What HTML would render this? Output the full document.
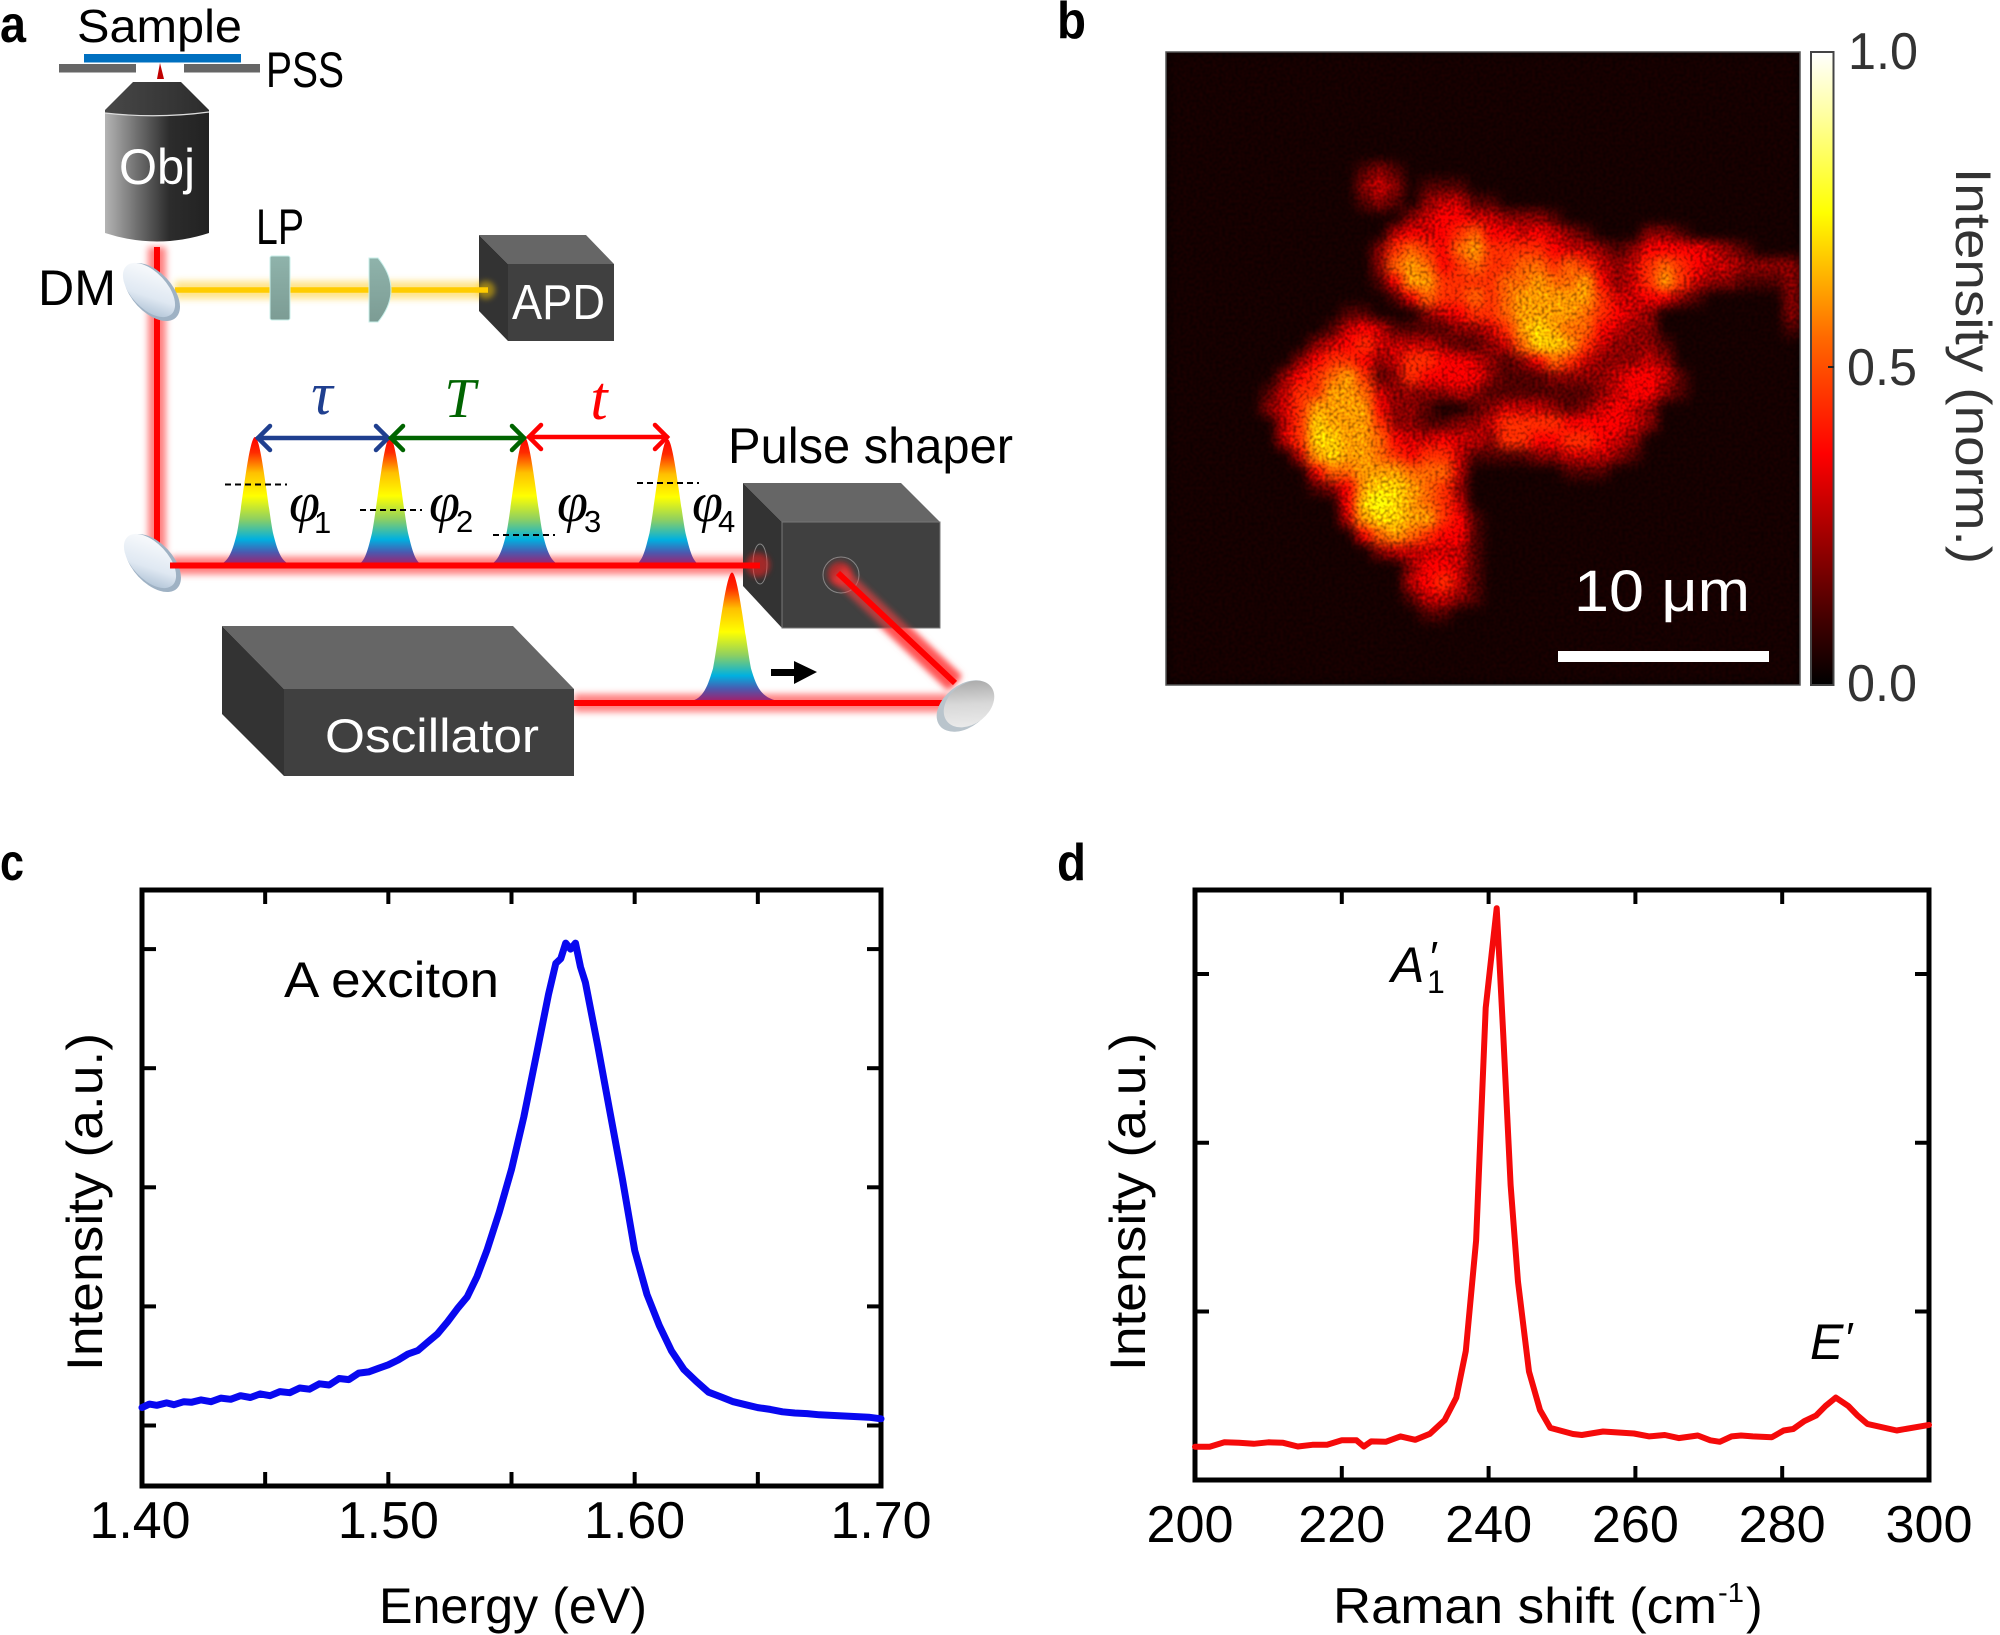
<!DOCTYPE html>
<html lang="en">
<head>
<meta charset="utf-8">
<title>Pulse shaping microscopy figure</title>
<style>
html,body{margin:0;padding:0;background:#fff}
svg{display:block}
text{font-family:"Liberation Sans",sans-serif}
.math{font-family:"Liberation Serif",serif;font-style:italic}
</style>
</head>
<body>
<svg id="figure" xmlns="http://www.w3.org/2000/svg" width="2000" height="1635" viewBox="0 0 2000 1635">
<defs>
  <linearGradient id="rainbow" x1="0" y1="0" x2="0" y2="1">
    <stop offset="0" stop-color="#ff0000"/><stop offset=".12" stop-color="#ff2a00"/>
    <stop offset=".28" stop-color="#ffc000"/><stop offset=".46" stop-color="#ffff00"/>
    <stop offset=".64" stop-color="#8fd060"/><stop offset=".8" stop-color="#00b0e0"/>
    <stop offset=".9" stop-color="#4a5ab0"/><stop offset="1" stop-color="#a81c68"/>
  </linearGradient>
  <linearGradient id="objBody" x1="0" y1="0" x2="1" y2="0">
    <stop offset="0" stop-color="#b4b4b4"/><stop offset=".35" stop-color="#666"/>
    <stop offset=".62" stop-color="#2c2c2c"/><stop offset="1" stop-color="#222"/>
  </linearGradient>
  <linearGradient id="objTop" x1="0" y1="0" x2="1" y2="0">
    <stop offset="0" stop-color="#484848"/><stop offset="1" stop-color="#2c2c2c"/>
  </linearGradient>
  <linearGradient id="mirrorBlue" x1="0" y1="0" x2="1" y2="1">
    <stop offset="0" stop-color="#ffffff"/><stop offset=".6" stop-color="#dfe8f2"/><stop offset="1" stop-color="#9fb6cc"/>
  </linearGradient>
  <linearGradient id="mirrorSilver" x1="1" y1="0" x2="0" y2="1">
    <stop offset="0" stop-color="#9a9a9a"/><stop offset=".5" stop-color="#d8d8d8"/><stop offset="1" stop-color="#f2f2f2"/>
  </linearGradient>
  <linearGradient id="opticGreen" x1="0" y1="0" x2="0" y2="1">
    <stop offset="0" stop-color="#8fb3ab"/><stop offset="1" stop-color="#7c9c94"/>
  </linearGradient>
  <linearGradient id="colorbarGradient" x1="0" y1="1" x2="0" y2="0">
    <stop offset="0" stop-color="#000000"/><stop offset=".1" stop-color="#400000"/>
    <stop offset=".365" stop-color="#ff0000"/><stop offset=".55" stop-color="#ff6a00"/>
    <stop offset=".746" stop-color="#ffff00"/><stop offset=".9" stop-color="#ffffa0"/><stop offset="1" stop-color="#ffffff"/>
  </linearGradient>
  <filter id="soft" x="-30%" y="-30%" width="160%" height="160%"><feGaussianBlur stdDeviation="3"/></filter>
  <filter id="softBeam" filterUnits="userSpaceOnUse" x="0" y="0" width="1100" height="800"><feGaussianBlur stdDeviation="3.5"/></filter>
  <filter id="heatBlur" filterUnits="userSpaceOnUse" x="1166" y="52" width="634" height="633" color-interpolation-filters="sRGB">
    <feGaussianBlur in="SourceGraphic" stdDeviation="5.5" result="b"/>
    <feTurbulence type="fractalNoise" baseFrequency="0.31" numOctaves="1" seed="4" result="t"/>
    <feColorMatrix in="t" type="matrix" values="1.4 0 0 0 -.2 1.4 0 0 0 -.2 1.4 0 0 0 -.2 0 0 0 0 1" result="n"/>
    <feComposite in="b" in2="n" operator="arithmetic" k1="0.9" k2="0.55" k3="0" k4="0"/>
  </filter>
  <clipPath id="heatClip"><rect x="1166" y="52" width="634" height="633"/></clipPath>
</defs>

<rect width="2000" height="1635" fill="#fff"/>

<!-- PANEL A -->
<g id="panel-a">
  <text x="0" y="42" font-size="52" font-weight="700" textLength="26" lengthAdjust="spacingAndGlyphs">a</text>

  <text x="77" y="42" font-size="46" textLength="165" lengthAdjust="spacingAndGlyphs">Sample</text>
  <rect x="84" y="54" width="157" height="8.5" fill="#0070c0"/>
  <rect x="59" y="64" width="77" height="8.5" fill="#666"/>
  <rect x="184" y="64" width="76" height="8.5" fill="#666"/>
  <polygon points="160,63 164,79 157,79" fill="#c00000"/>
  <text x="266" y="87" font-size="50" textLength="78" lengthAdjust="spacingAndGlyphs">PSS</text>

  <g>
    <polygon points="133,82 181,82 209,110 209,116 105,116 105,110" fill="url(#objTop)"/>
    <path d="M105,113 Q157,119 209,113 L209,233 Q157,250 105,233 Z" fill="url(#objBody)"/>
    <path d="M105,113 Q157,119 209,112" fill="none" stroke="#ddd" stroke-width="1.2"/>
  </g>
  <text x="119" y="184" font-size="50" fill="#fff" textLength="76" lengthAdjust="spacingAndGlyphs">Obj</text>
  <text x="256" y="244" font-size="50" textLength="48" lengthAdjust="spacingAndGlyphs">LP</text>
  <text x="38" y="305" font-size="50" textLength="78" lengthAdjust="spacingAndGlyphs">DM</text>

  <g filter="url(#softBeam)" fill="none" stroke-linecap="butt">
    <line x1="157" y1="247" x2="157" y2="560" stroke="#ff8080" stroke-width="18"/>
    <line x1="170" y1="565.5" x2="760" y2="565.5" stroke="#ff8080" stroke-width="18"/>
    <line x1="574" y1="703" x2="950" y2="703" stroke="#ff8080" stroke-width="18"/>
    <line x1="838" y1="573" x2="955" y2="683" stroke="#ff7070" stroke-width="20"/>
    <line x1="175" y1="290" x2="488" y2="290" stroke="#ffe48a" stroke-width="18"/>
  </g>

  <polygon points="479,235 586,235 614,264 508,264" fill="#666"/>
  <polygon points="479,235 508,264 508,341 479,311" fill="#333"/>
  <rect x="508" y="264" width="106" height="77" fill="#404040"/>
  <text x="512" y="319" font-size="49" fill="#fff" textLength="93" lengthAdjust="spacingAndGlyphs">APD</text>
  <line x1="175" y1="290" x2="488" y2="290" stroke="#ffcc00" stroke-width="5.5"/>
  <circle cx="486" cy="290" r="9" fill="#ffcc00" opacity=".5" filter="url(#soft)"/>

  <rect x="270" y="256" width="20" height="64" rx="2" fill="url(#opticGreen)" stroke="#c8efea" stroke-width="1"/>
  <path d="M369,258 L378,258 Q404,290 378,322 L369,322 Z" fill="url(#opticGreen)" stroke="#c8efea" stroke-width="1"/>

  <line x1="157" y1="247" x2="157" y2="560" stroke="#ff0000" stroke-width="6"/>

  <g>
    <ellipse cx="152" cy="292" rx="35" ry="20" transform="rotate(47 152 292)" fill="#9fb2c4"/>
    <ellipse cx="149" cy="290" rx="33" ry="18" transform="rotate(47 149 290)" fill="url(#mirrorBlue)"/>
  </g>
  <g>
    <ellipse cx="153" cy="563" rx="35" ry="20" transform="rotate(47 153 563)" fill="#9fb2c4"/>
    <ellipse cx="150" cy="561" rx="33" ry="18" transform="rotate(47 150 561)" fill="url(#mirrorBlue)"/>
  </g>

  <polygon points="743,483 901,483 940,522 782,522" fill="#666"/>
  <polygon points="743,483 782,522 782,628 743,586" fill="#333"/>
  <rect x="782" y="522" width="158" height="106" fill="#404040" stroke="#777" stroke-width="1"/>
  <ellipse cx="760" cy="564" rx="7" ry="20" fill="none" stroke="#888" stroke-width="1"/>
  <circle cx="841" cy="575" r="18" fill="none" stroke="#888" stroke-width="1"/>
  <circle cx="758" cy="565" r="12" fill="#ff2020" opacity=".55" filter="url(#soft)"/>
  <circle cx="840" cy="574" r="12" fill="#ff2020" opacity=".6" filter="url(#soft)"/>
  <line x1="838" y1="573" x2="955" y2="683" stroke="#ff4040" stroke-width="18" opacity=".6" filter="url(#soft)"/>

  <polygon points="222,626 513,626 574,689 284,689" fill="#666"/>
  <polygon points="222,626 284,689 284,776 222,714" fill="#333"/>
  <rect x="284" y="689" width="290" height="87" fill="#404040"/>
  <text x="325" y="752" font-size="47" fill="#fff" textLength="214" lengthAdjust="spacingAndGlyphs">Oscillator</text>

  <g fill="url(#rainbow)">
    <path transform="translate(255 437)" d="M-37,128 C-26,126 -22,112 -18,96 C-13,70 -6,0 0,0 C6,0 13,70 18,96 C22,112 26,126 37,128 Z"/>
    <path transform="translate(390 437)" d="M-33,128 C-25,126 -22,112 -18,96 C-13,70 -6,0 0,0 C6,0 13,70 18,96 C22,112 25,126 33,128 Z"/>
    <path transform="translate(524.5 437)" d="M-36,128 C-26,126 -22,112 -18,96 C-13,70 -6,0 0,0 C6,0 13,70 18,96 C22,112 26,126 36,128 Z"/>
    <path transform="translate(667.5 439)" d="M-33,126 C-25,124 -22,110 -18,94 C-13,68 -6,0 0,0 C6,0 13,68 18,94 C22,110 25,124 33,126 Z"/>
    <path transform="translate(732 572.5)" d="M-43,129 C-28,127 -24,112 -19,96 C-14,70 -6,0 0,0 C6,0 14,70 19,96 C24,112 28,127 50,129 Z"/>
  </g>

  <line x1="170" y1="565.5" x2="760" y2="565.5" stroke="#ff0000" stroke-width="6"/>
  <line x1="574" y1="703" x2="950" y2="703" stroke="#ff0000" stroke-width="6"/>
  <line x1="838" y1="573" x2="955" y2="683" stroke="#ff0000" stroke-width="6"/>

  <g>
    <ellipse cx="965" cy="706" rx="32" ry="21" transform="rotate(-38 965 706)" fill="#b9c4cc"/>
    <ellipse cx="969" cy="704" rx="28" ry="20" transform="rotate(-38 969 704)" fill="url(#mirrorSilver)"/>
  </g>

  <polygon points="771,669 794,669 794,661 817,672 794,684 794,676 771,676" fill="#000"/>

  <g fill="none" stroke-width="4.5" stroke-linecap="round">
    <g stroke="#1f3f8f">
      <line x1="258" y1="438" x2="387" y2="438"/><polyline points="270,426 258,438 270,450"/><polyline points="376,426 388,438 376,450"/>
    </g>
    <g stroke="#006400">
      <line x1="391" y1="438" x2="524" y2="438"/><polyline points="403,426 391,438 403,450"/><polyline points="512,426 524,438 512,450"/>
    </g>
    <g stroke="#ff0000">
      <line x1="529" y1="437" x2="667" y2="437"/><polyline points="541,425 529,437 541,449"/><polyline points="655,425 667,437 655,449"/>
    </g>
  </g>
  <text class="math" x="322" y="414" font-size="60" text-anchor="middle" fill="#1f3f8f">τ</text>
  <text class="math" x="460" y="417" font-size="56" text-anchor="middle" fill="#006400">T</text>
  <text class="math" x="599" y="419" font-size="62" text-anchor="middle" fill="#ff0000">t</text>

  <g stroke="#000" stroke-width="2" stroke-dasharray="6 4">
    <line x1="225" y1="484.5" x2="287" y2="484.5"/>
    <line x1="360" y1="510" x2="422" y2="510"/>
    <line x1="493" y1="535" x2="555" y2="535"/>
    <line x1="637" y1="483" x2="699" y2="483"/>
  </g>
  <text class="math" x="289" y="521" font-size="56">φ</text>
  <text x="314" y="533" font-size="31">1</text>
  <text class="math" x="429" y="521" font-size="56">φ</text>
  <text x="456" y="532" font-size="31">2</text>
  <text class="math" x="557" y="521" font-size="56">φ</text>
  <text x="584" y="532" font-size="31">3</text>
  <text class="math" x="692" y="521" font-size="56">φ</text>
  <text x="718" y="532" font-size="31">4</text>
  <text x="728" y="463" font-size="50" textLength="285" lengthAdjust="spacingAndGlyphs">Pulse shaper</text>
</g>

<!-- PANEL B -->
<g id="panel-b">
  <text x="1057" y="38" font-size="52" font-weight="700" textLength="29" lengthAdjust="spacingAndGlyphs">b</text>
  <rect x="1166" y="52" width="634" height="633" fill="#0e0000"/>
  <g clip-path="url(#heatClip)"><g id="heatmap" filter="url(#heatBlur)"></g></g>
  <rect x="1166" y="52" width="634" height="633" fill="none" stroke="#555" stroke-width="1.5"/>
  <rect x="1558" y="651" width="211" height="11" fill="#fff"/>
  <text x="1574" y="611" font-size="58" fill="#fff" textLength="176" lengthAdjust="spacingAndGlyphs">10 μm</text>
  <rect x="1811" y="52" width="22.5" height="633" fill="url(#colorbarGradient)" stroke="#444" stroke-width="2"/>
  <line x1="1828" y1="367" x2="1834" y2="367" stroke="#222" stroke-width="2"/>
  <text x="1848" y="69" font-size="52" fill="#333" textLength="70" lengthAdjust="spacingAndGlyphs">1.0</text>
  <text x="1847" y="385" font-size="52" fill="#333" textLength="70" lengthAdjust="spacingAndGlyphs">0.5</text>
  <text x="1847" y="701" font-size="52" fill="#333" textLength="70" lengthAdjust="spacingAndGlyphs">0.0</text>
  <text transform="translate(1956 168) rotate(90)" font-size="50" fill="#333" textLength="396" lengthAdjust="spacingAndGlyphs">Intensity (norm.)</text>
</g>

<!-- PANEL C & D drawn from data below -->
<g id="panel-c">
  <text x="0" y="880" font-size="52" font-weight="700" textLength="24" lengthAdjust="spacingAndGlyphs">c</text>
  <text x="379" y="1623" font-size="50" textLength="268" lengthAdjust="spacingAndGlyphs">Energy (eV)</text>
  <text transform="translate(102 1371) rotate(-90)" font-size="50" textLength="338" lengthAdjust="spacingAndGlyphs">Intensity (a.u.)</text>
  <text x="284" y="997" font-size="50" textLength="215" lengthAdjust="spacingAndGlyphs">A exciton</text>
</g>
<g id="panel-d">
  <text x="1057" y="880" font-size="52" font-weight="700" textLength="29" lengthAdjust="spacingAndGlyphs">d</text>
  <text x="1333" y="1623" font-size="50" textLength="384" lengthAdjust="spacingAndGlyphs">Raman shift (cm</text>
  <text x="1718" y="1602" font-size="28" textLength="26" lengthAdjust="spacingAndGlyphs">-1</text>
  <text x="1746" y="1623" font-size="50">)</text>
  <text transform="translate(1145 1371) rotate(-90)" font-size="50" textLength="338" lengthAdjust="spacingAndGlyphs">Intensity (a.u.)</text>
  <text x="1391" y="982" font-size="50" font-style="italic">A</text>
  <text x="1427" y="993" font-size="32">1</text>
  <text x="1428" y="972" font-size="44" font-style="italic">′</text>
  <text x="1810" y="1359" font-size="50" font-style="italic">E</text>
  <text x="1844" y="1353" font-size="44" font-style="italic">′</text>
</g>
</svg>

<script>
// Panel b: normalised intensity map, read by eye on a 40 x 40 grid (digit 0-9 = intensity level)
const heatmapRows = [
"0000000000000000000000000000000000000000",
"0000000000000000000000000000000000000000",
"0000000000000000000000000000000000000000",
"0000000000000000000000000000000000000000",
"0000000000000000000000000000000000000000",
"0000000000000000000000000000000000000000",
"0000000000000000000000000000000000000000",
"0000000000001210000000000000000000000000",
"0000000000002320111000000000000000000000",
"0000000000001210233110000000000000000000",
"0000000000000002344332221000000000000000",
"0000000000000034345644343210002210000000",
"0000000000000256546755554332124444321000",
"0000000000000267645655665653235654332222",
"0000000000000147755556676674235753221112",
"0000000000000014655656777775334421000002",
"0000000000011000234556777765432000000002",
"0000000000134311112235787664322000000001",
"0000000002345333321123688753222100000000",
"0000000024554235544321246532223200000000",
"0000000245675125444421112222344310000000",
"0000001355776322223211111112344210000000",
"0000002357777422100123332123432000000000",
"0000000358777522112235555444432000000000",
"0000000358877643343325544554320000000000",
"0000000037877654553111122333210000000000",
"0000000004667776663000000111000000000000",
"0000000001247887652000000000000000000000",
"0000000000048987653000000000000000000000",
"0000000000037887754100000000000000000000",
"0000000000004676544100000000000000000000",
"0000000000000233333100000000000000000000",
"0000000000000002443100000000000000000000",
"0000000000000003453100000000000000000000",
"0000000000000001332100000000000000000000",
"0000000000000000110000000000000000000000",
"0000000000000000000000000000000000000000",
"0000000000000000000000000000000000000000",
"0000000000000000000000000000000000000000",
"0000000000000000000000000000000000000000"
];

// Panel c: photoluminescence spectrum
const plEnergy = [1.400,1.403,1.406,1.410,1.413,1.417,1.420,1.424,1.428,1.432,1.436,1.440,1.444,1.448,1.452,1.456,1.460,1.464,1.468,1.472,1.476,1.480,1.484,1.488,1.492,1.496,1.500,1.504,1.508,1.512,1.516,1.520,1.524,1.528,1.532,1.536,1.540,1.545,1.550,1.555,1.560,1.565,1.568,1.570,1.572,1.574,1.576,1.578,1.580,1.585,1.590,1.595,1.600,1.605,1.610,1.615,1.620,1.625,1.630,1.635,1.640,1.645,1.650,1.655,1.660,1.665,1.670,1.675,1.680,1.685,1.690,1.695,1.700];
const plIntensity = [0.15,0.18,0.17,0.19,0.175,0.20,0.195,0.215,0.20,0.23,0.22,0.25,0.235,0.265,0.25,0.285,0.275,0.315,0.305,0.35,0.34,0.395,0.385,0.44,0.45,0.48,0.51,0.55,0.60,0.63,0.70,0.77,0.87,0.98,1.08,1.25,1.47,1.79,2.15,2.59,3.10,3.62,3.88,3.92,4.05,4.00,4.05,3.85,3.72,3.19,2.63,2.07,1.47,1.10,0.84,0.625,0.47,0.37,0.28,0.24,0.20,0.175,0.15,0.135,0.115,0.105,0.10,0.09,0.085,0.08,0.075,0.07,0.056];
const plXTicks = [1.40,1.45,1.50,1.55,1.60,1.65,1.70];
const plXLabels = ["1.40","","1.50","","1.60","","1.70"];
const plYTicks = [0,1,2,3,4];

// Panel d: Raman spectrum
const ramanShift = [200,202,204,206,208,210,212,214,216,218,220,222,223,224,226,228,230,232,234,235.6,236.9,238.3,239.6,241.1,242,243,244,245.5,247,248.4,251.5,252.7,255.6,259.8,261.9,264,265.9,268.5,270.2,271.5,273.1,274.4,276,278.6,280.2,281.5,283,284.6,285.9,287.3,289,290.2,291.6,295.6,300];
const ramanIntensity = [0.198,0.198,0.225,0.222,0.216,0.225,0.222,0.20,0.21,0.21,0.237,0.237,0.20,0.23,0.228,0.26,0.24,0.275,0.356,0.49,0.766,1.42,2.80,3.39,2.635,1.75,1.176,0.644,0.416,0.31,0.274,0.268,0.289,0.277,0.26,0.268,0.25,0.265,0.237,0.228,0.26,0.265,0.26,0.255,0.295,0.304,0.35,0.383,0.44,0.49,0.44,0.386,0.334,0.295,0.328];
const ramanXTicks = [200,220,240,260,280,300];
const ramanXLabels = ["200","220","240","260","280","300"];
const ramanYTicks = [1,2,3];

const NS = "http://www.w3.org/2000/svg";
function make(tag, attrs, parent) {
  const el = document.createElementNS(NS, tag);
  for (const k in attrs) el.setAttribute(k, attrs[k]);
  parent.appendChild(el);
  return el;
}

// Heatmap drawing
function hot(v) {
  const r = Math.min(1, v / 0.365);
  const g = Math.max(0, Math.min(1, (v - 0.365) / 0.381));
  const b = Math.max(0, Math.min(1, (v - 0.746) / 0.254));
  return "rgb(" + Math.round(r * 255) + "," + Math.round(g * 255) + "," + Math.round(b * 255) + ")";
}
function levelToValue(d) { return d * 0.08 + 0.03; }
function mapX(c) { return 1166 + c * 634 / 40; }
function mapY(r) { return 52 + r * 633 / 40; }
const heatGroup = document.getElementById("heatmap");
heatmapRows.forEach(function (row, r) {
  for (let c = 0; c < row.length; c++) {
    const cell = make("rect", {
      x: mapX(c).toFixed(2), y: mapY(r).toFixed(2),
      width: (634 / 40 + 0.6).toFixed(2), height: (633 / 40 + 0.6).toFixed(2),
      fill: hot(levelToValue(Number(row[c])))
    }, heatGroup);
    
    
  }
});

// Line chart drawing
function drawChart(panel, opts) {
  const x = opts.x, y = opts.y;
  const frame = make("rect", { x: opts.left, y: opts.top, width: opts.right - opts.left, height: opts.bottom - opts.top, fill: "none", stroke: "#000", "stroke-width": 5 }, panel);
  
  

  opts.xTicks.forEach(function (t, i) {
    const px = x(t);
    const bottomTick = make("line", { x1: px, x2: px, y1: opts.bottom, y2: opts.bottom - 14, stroke: "#000", "stroke-width": 4 }, panel);
    
    
    const topTick = make("line", { x1: px, x2: px, y1: opts.top, y2: opts.top + 14, stroke: "#000", "stroke-width": 4 }, panel);
    
    
    if (opts.xLabels[i]) {
      const label = make("text", { x: px - (i === 0 ? opts.firstLabelShift : 0), y: opts.labelY, "font-size": 52, "text-anchor": "middle", textLength: opts.labelWidth, lengthAdjust: "spacingAndGlyphs" }, panel);
      label.textContent = opts.xLabels[i];
      
      
    }
  });
  opts.yTicks.forEach(function (t) {
    const py = y(t);
    const leftTick = make("line", { x1: opts.left, x2: opts.left + 14, y1: py, y2: py, stroke: "#000", "stroke-width": 4 }, panel);
    
    
    const rightTick = make("line", { x1: opts.right, x2: opts.right - 14, y1: py, y2: py, stroke: "#000", "stroke-width": 4 }, panel);
    
    
  });
  const d = opts.xs.map(function (v, i) {
    return (i ? "L" : "M") + x(v).toFixed(1) + "," + y(opts.ys[i]).toFixed(1);
  }).join(" ");
  const line = make("path", { d: d, fill: "none", stroke: opts.color, "stroke-width": opts.width, "stroke-linejoin": "round", "stroke-linecap": "round" }, panel);
  
  
}

function plX(e) { return 142 + (e - 1.40) / 0.30 * 739; }
function plY(v) { return 1425.5 - v * 119.1; }
drawChart(document.getElementById("panel-c"), {
  left: 142, right: 881, top: 890, bottom: 1486,
  x: plX, y: plY,
  xTicks: plXTicks, xLabels: plXLabels, yTicks: plYTicks,
  labelY: 1538, labelWidth: 101, firstLabelShift: 2,
  xs: plEnergy, ys: plIntensity, color: "#0808f0", width: 7, seriesName: "pl-spectrum-line"
});

function ramanX(s) { return 1195 + (s - 200) / 100 * 734; }
function ramanY(v) { return 1311.5 - (v - 1) * 168.75; }
drawChart(document.getElementById("panel-d"), {
  left: 1195, right: 1929, top: 890, bottom: 1480,
  x: ramanX, y: ramanY,
  xTicks: ramanXTicks, xLabels: ramanXLabels, yTicks: ramanYTicks,
  labelY: 1542, labelWidth: 87, firstLabelShift: 5,
  xs: ramanShift, ys: ramanIntensity, color: "#f50a0a", width: 6, seriesName: "raman-spectrum-line"
});
</script>
</body>
</html>
